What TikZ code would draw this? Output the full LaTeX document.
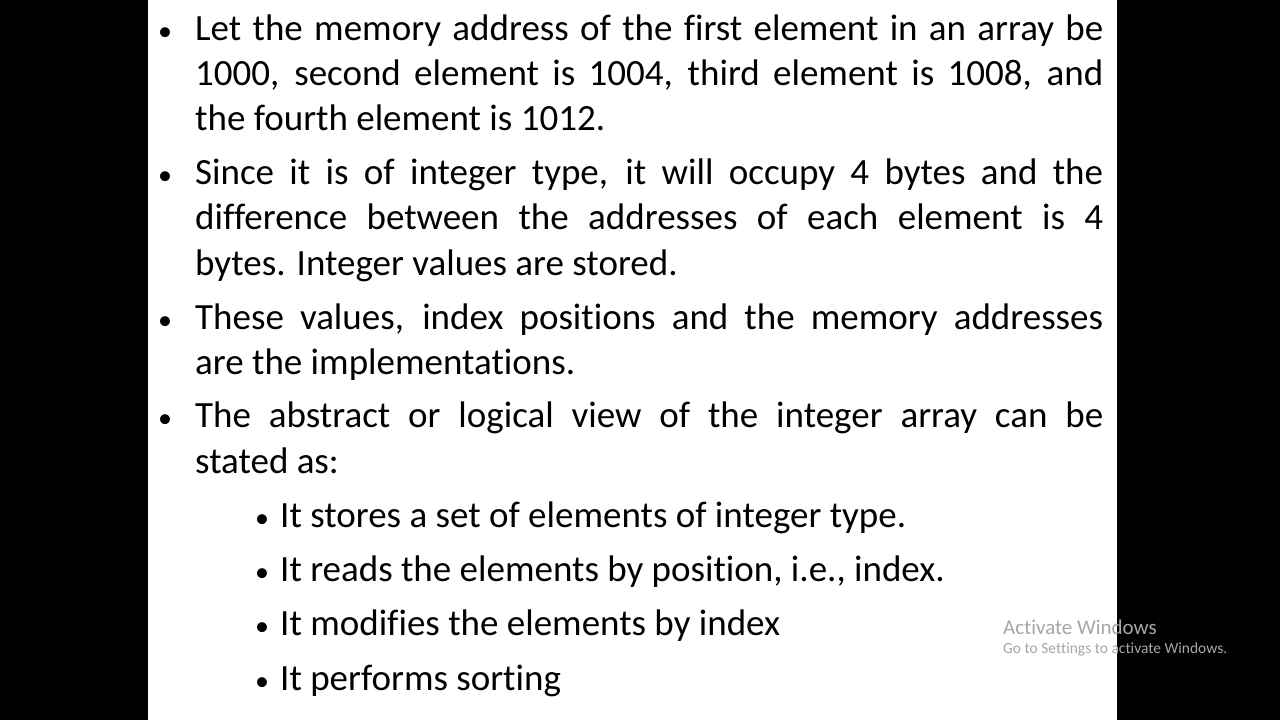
\documentclass[tikz,border=0pt]{standalone}
\usepackage{fontspec}
\setmainfont[Ligatures={NoCommon}]{Carlito}
\begin{document}
\begin{tikzpicture}[x=1pt,y=-1pt,
  ln/.style={anchor=base west,inner sep=0pt,font=\fontsize{37}{40}\selectfont},
  bl/.style={anchor=base west,inner sep=0pt,font=\fontsize{28}{30}\selectfont}]
\fill[black] (0,0) rectangle (1280,720);
\fill[white] (148,0) rectangle (1117,720);
\useasboundingbox (0,0) rectangle (1280,720);
\newcommand{\myjl}[2]{\node[ln] at (195,#1) {\hbox to 908pt{\spaceskip=0.2em plus 1fil\relax #2}};}
\newcommand{\myll}[2]{\node[ln] at (195,#1) {#2};}
\newcommand{\mybu}[3]{\node[bl] (#2) at (#3,#1) {•};}
\mybu{40}{b1}{158}
\myjl{40}{Let the memory address of the first element in an array be}
\myjl{85}{1000, second element is 1004, third element is 1008, and}
\myll{130}{the fourth element is 1012.}
\mybu{184}{b2}{158}
\myjl{184}{Since it is of integer type, it will occupy 4 bytes and the}
\myjl{229}{difference between the addresses of each element is 4}
\myll{275}{bytes. Integer values are stored.}
\mybu{329}{b3}{158}
\myjl{329}{These values, index positions and the memory addresses}
\myll{374}{are the implementations.}
\mybu{427}{b4}{158}
\myjl{427}{The abstract or logical view of the integer array can be}
\myll{473}{stated as:}
\mybu{527}{c1}{255}
\mybu{581}{c2}{255}
\mybu{635}{c3}{255}
\mybu{690}{c4}{255}
\node[ln] (s1) at (280,527) {It stores a set of elements of integer type.};
\node[ln] (s2) at (280,581) {It reads the elements by position, i.e., index.};
\node[ln] (s3) at (280,635) {It modifies the elements by index};
\node[ln] (s4) at (280,690) {It performs sorting};
\node[anchor=base west,inner sep=0pt,text=black!35,font=\fontsize{21}{22}\selectfont] (w1) at (1003,634) {Activate Windows};
\node[anchor=base west,inner sep=0pt,text=black!35,font=\fontsize{15.5}{16}\selectfont] (w2) at (1003,653) {Go to Settings to activate Windows.};
\end{tikzpicture}
\end{document}
